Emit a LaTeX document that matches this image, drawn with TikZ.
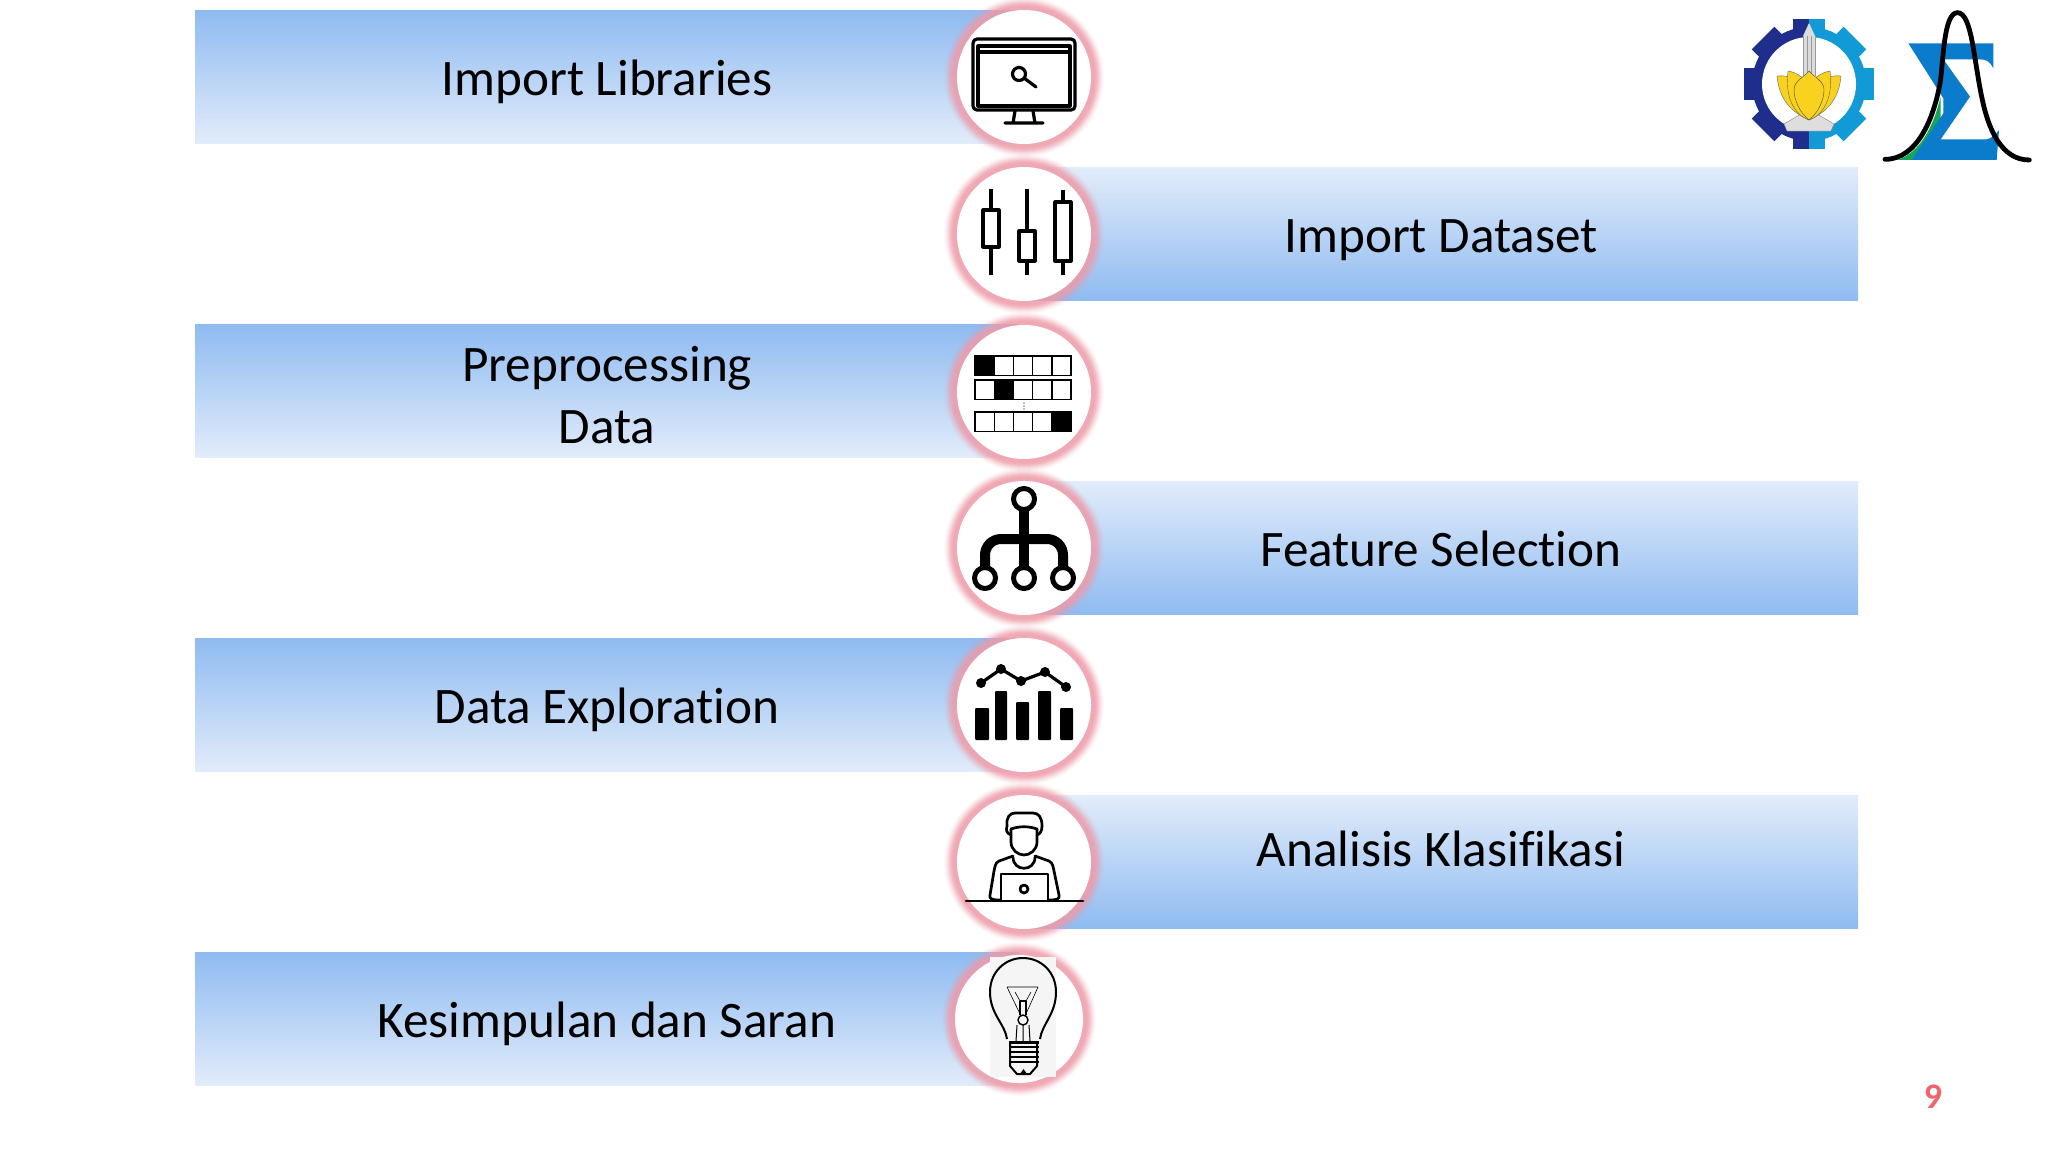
\documentclass[tikz,border=0pt]{standalone}
\usepackage{fontspec}
\setmainfont{Carlito}[Ligatures=NoCommon]
\definecolor{bardark}{HTML}{8FBBF1}
\definecolor{barlight}{HTML}{E2ECFA}
\definecolor{ringpink}{HTML}{F09CA9}
\definecolor{itsnavy}{HTML}{1F2E8C}
\definecolor{itsblue}{HTML}{129AD6}
\definecolor{lotus}{HTML}{F8D21E}
\definecolor{sigmablue}{HTML}{0B7CCB}
\definecolor{sigmagreen}{HTML}{17A556}
\definecolor{pagered}{HTML}{F2636B}
\tikzset{
  barleft/.style={minimum width=412pt,minimum height=66.5pt,inner sep=0pt,align=center,
    text height=18.4pt,text depth=0pt,
    top color=bardark,bottom color=barlight,font=\fontsize{25.6}{31}\selectfont},
  barright/.style={barleft,minimum width=417pt,top color=barlight,bottom color=bardark},
  iconline/.style={line width=1.6pt,line join=round,line cap=round},
  thickline/.style={line width=5pt,line join=round}
}
\begin{document}
\begin{tikzpicture}[x=0.5pt,y=-0.5pt]
   \fill[white] (0,0) rectangle (2048,1152);
   \useasboundingbox (0,0) rectangle (2048,1152);
   % bars
   \foreach \n/\y/\l in
     { libraries/77/{Import Libraries},
       preprocessing/391/{\raisebox{14.2pt}{\begin{tabular}[t]{@{}c@{}}Preprocessing\\Data\end{tabular}}},
       exploration/705/{Data Exploration},
       conclusion/1019/{Kesimpulan dan Saran}}
     \node[barleft] (\n) at (607,\y) {\l};
   \foreach \n/\y/\l in
     { dataset/234/{Import Dataset},
       selection/548/{Feature Selection},
       classification/862/{\raisebox{7pt}{Analisis Klasifikasi}}}
     \node[barright] (\n) at (1441,\y) {\l};
   % circles with a soft pink ring
   \foreach \n/\x/\y/\r in
     { ilibraries/1024/77/67, idataset/1024/234/67, ipreprocessing/1024/392/67,
       iselection/1024/548/67, iexploration/1024/705/67, iclassification/1024/862/67,
       iconclusion/1019/1019/64}
   {
     \foreach \w/\o in {13/0.05,12/0.07,11/0.09,10/0.12,9/0.15,8/0.2,7/0.25,6/0.25,5/0.25,4/0.25}
       \fill[ringpink,opacity=\o] (\x,\y) circle ({\r+\w});
     \node[circle,fill=white,minimum size=\r*1pt,inner sep=0pt] (\n) at (\x,\y) {};
   }
   % monitor
   \begin{scope}[shift={(1024,77)},iconline]
     \draw[rounded corners=2pt] (-51,-38) rectangle (51,33);
     \draw (-46,-31) rectangle (46,29);
     \draw (-46,-25) -- (46,-25);
     \draw (-9,34) -- (-11,46) (9,34) -- (11,46) (-19,46) -- (19,46);
     \draw (-5,-3) circle (6.5);
     \draw (0,1) -- (12,10);
   \end{scope}
   % candles
   \begin{scope}[shift={(1024,234)},iconline]
     \foreach \x/\a/\b/\c/\d in {-33/-45/-24/13/41, 3/-45/-3/27/41, 39/-44/-32/27/41}
     {
       \draw[line cap=butt] (\x,\a) -- (\x,\d);
       \draw[fill=white,line cap=butt] (\x-8,\b) rectangle (\x+8,\c);
     }
   \end{scope}
   % one-hot rows
   \begin{scope}[shift={(1024,392)},line width=0.7pt]
     \foreach \t/\k in {-36/0,-12/1,20/4}
       \foreach \i in {0,...,4}
       {
         \draw (-49+\i*19.2,\t) rectangle ++(19.2,19.5);
         \ifnum\i=\k \fill (-49+\i*19.2,\t) rectangle ++(19.2,19.5); \fi
       }
     \foreach \t in {11,14,17}
       \fill[gray] (0,\t) circle (0.8);
   \end{scope}
   % tree
   \begin{scope}[shift={(1024,548)},thickline]
     \draw (0,-38) -- (0,20);
     \draw[rounded corners=8pt] (-39,20) -- (-39,-9) -- (39,-9) -- (39,20);
     \draw[line width=2.5pt] (0,-49) circle (10.5);
     \foreach \x in {-39,0,39}
       \draw[line width=2.5pt,fill=white] (\x,30) circle (10.5);
   \end{scope}
   % chart
   \begin{scope}[shift={(1024,705)}]
     \foreach \a/\b/\t in {-49/-35/3, -29/-17/-14, -8/5/-3, 14/27/-14, 36/49/3}
       \fill[rounded corners=0.5pt] (\a,\t) rectangle (\b,35);
     \draw[iconline] (-43,-22) -- (-23,-36) -- (-3,-24) -- (21,-33) -- (42,-18);
     \foreach \x/\y in {-43/-22, -23/-36, -3/-24, 21/-33, 42/-18}
       \fill (\x,\y) circle (5);
   \end{scope}
   % person with laptop
   \begin{scope}[shift={(1024,862)},iconline,line width=1.35pt]
     \draw (-58,39) -- (59,39);
     \draw (-23,39) -- (-23,12) -- (24,12) -- (24,39);
     \draw (0,27) circle (4);
     \draw (-13,-33) -- (-13,-20) .. controls (-13,-12) and (-6,-7) .. (0,-7)
        .. controls (6,-7) and (13,-12) .. (13,-20) -- (13,-33);
     \draw (-13,-27) .. controls (-18,-29) and (-18,-32) .. (-17,-36)
        .. controls (-18,-45) and (-14,-49) .. (-9,-49) -- (9,-49)
        .. controls (15,-49) and (18,-44) .. (18,-36)
        .. controls (18,-31) and (16,-28) .. (13,-27);
     \draw (-13,-33) .. controls (-5,-36) and (5,-36) .. (13,-33);
     \draw (-11,-5) .. controls (-11,10) and (11,10) .. (11,-5);
     \draw (-11,-6) -- (-25,-1) .. controls (-29,1) and (-29,5) .. (-30,9) -- (-34,33)
        .. controls (-35,37) and (-32,38) .. (-24,38);
     \draw (11,-6) -- (25,-1) .. controls (29,1) and (29,5) .. (30,9) -- (35,33)
        .. controls (36,37) and (33,38) .. (25,38);
   \end{scope}
   % bulb
   \begin{scope}[shift={(1019,1019)}]
     \fill[black!4] (-29,-62) rectangle (37,58);
     \draw[line width=1pt] (-12,20) .. controls (-14,5) and (-29,-5) .. (-29,-27)
        .. controls (-29,-47) and (-14,-61) .. (4,-61)
        .. controls (22,-61) and (37,-47) .. (37,-27)
        .. controls (37,-5) and (23,5) .. (21,20);
     \draw[line width=0.3pt] (-12,-32) -- (19,-32) (-12,-32) -- (2,-3) (19,-32) -- (6,-3)
        (-4,-27) -- (1,-18) (12,-27) -- (7,-18);
     \draw[line width=0.7pt] (1,-18) -- (1,-4) (7,-18) -- (7,-4) (1,-18) -- (7,-18);
     \draw[line width=0.7pt] (4,1) circle (5);
     \draw[line width=0.5pt] (-2,6) -- (-3,22) (10,6) -- (11,22) (4,6) -- (4,22);
     \fill (-10,22) rectangle (20,25);
     \foreach \t in {28,33,38,43}
       \draw[line width=1.1pt] (-10,\t) -- (20,\t);
     \draw[line width=1pt] (-9,24) -- (-9,47) -- (-2,55) -- (11,55) -- (18,47) -- (18,24);
     \fill (1,55) -- (8,55) -- (4.5,50) -- cycle;
   \end{scope}
   % gear logo
   \begin{scope}[shift={(1809,84)}]
     \begin{scope}
       \clip (-70,-70) rectangle (0,70);
       \fill[itsnavy] (0,0) circle (57);
       \foreach \a in {0,45,...,315}
         \fill[itsnavy,rotate=\a] (49,-16) rectangle (65,16);
     \end{scope}
     \begin{scope}
       \clip (0,-70) rectangle (70,70);
       \fill[itsblue] (0,0) circle (57);
       \foreach \a in {0,45,...,315}
         \fill[itsblue,rotate=\a] (49,-16) rectangle (65,16);
     \end{scope}
     \fill[white] (0,0) circle (47);
     \fill[black!14] (-6,-8) -- (-6,-48) -- (0,-61) -- (6,-48) -- (6,-8) -- cycle;
     \draw[black!40,line width=0.25pt] (-6,-48) -- (-6,-8) (6,-48) -- (6,-8) (-2,-48) -- (-2,-8) (2,-48) -- (2,-8);
     \fill[black!13,draw=black!50,line width=0.2pt] (-25,40) -- (-8,30) -- (8,30) -- (25,40) -- (22,47) -- (-22,47) -- cycle;
     \draw[black!60,line width=0.2pt,fill=lotus] (0,36) .. controls (-18,28) and (-30,15) .. (-32,-8)
        .. controls (-22,-9) and (-14,-6) .. (-8,0) -- (8,0)
        .. controls (14,-6) and (22,-9) .. (32,-8)
        .. controls (30,15) and (18,28) .. (0,36) -- cycle;
     \draw[black!60,line width=0.2pt,fill=lotus] (0,36) .. controls (-16,30) and (-24,12) .. (-21,-13)
        .. controls (-14,-12) and (-8,-8) .. (-4,-4) -- (4,-4)
        .. controls (8,-8) and (14,-12) .. (21,-13)
        .. controls (24,12) and (16,30) .. (0,36) -- cycle;
     \draw[black!70,line width=0.2pt,fill=lotus] (0,36) .. controls (-10,28) and (-15,15) .. (-15,6)
        .. controls (-15,-3) and (-6,-6) .. (0,-13)
        .. controls (6,-6) and (15,-3) .. (15,6)
        .. controls (15,15) and (10,28) .. (0,36) -- cycle;
   \end{scope}
   % sigma logo
   \begin{scope}[shift={(1730,0)},x=0.5pt/3,y=-0.5pt/3]
     \fill[sigmagreen] (632,290) -- (632,370) -- (545,480) -- (500,480) .. controls (570,460) and (610,380) .. (632,290) -- cycle;
     \fill[sigmablue] (535,130) -- (790,130) -- (790,205) .. controls (780,185) and (770,178) .. (750,178)
        -- (640,178) -- (720,290) -- (632,418) -- (770,418) .. controls (785,415) and (795,405) .. (807,390)
        -- (800,480) -- (545,480) -- (640,340) -- (640,295) -- cycle;
     \draw[line width=2.4pt,line cap=round] (465,478) .. controls (560,478) and (610,360) .. (630,250)
        .. controls (640,190) and (640,38) .. (682,38)
        .. controls (725,38) and (730,170) .. (755,290)
        .. controls (775,390) and (815,480) .. (898,480);
   \end{scope}
   \node[text=pagered,font=\fontsize{18}{18}\selectfont\bfseries] (pagenumber) at (1933,1097) {9};
\end{tikzpicture}
\end{document}
